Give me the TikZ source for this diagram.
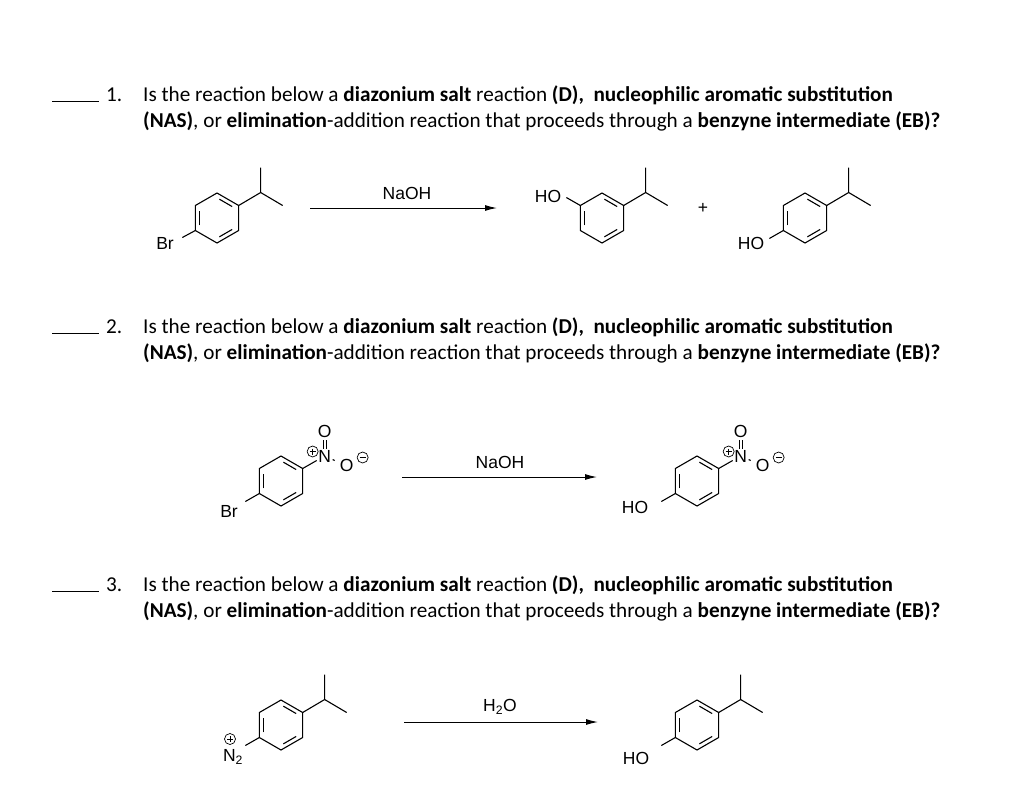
\documentclass[tikz,border=0pt]{standalone}
\usepackage{fontspec}
\setmainfont{Carlito}
\newfontfamily\chemf{Liberation Sans}
\usetikzlibrary{calc,arrows.meta}
\tikzset{
  q/.style={anchor=base west,font=\fontsize{21.2}{24}\selectfont,inner sep=0pt},
  lab/.style={font=\chemf\fontsize{17.5}{20}\selectfont,inner sep=0pt},
  bond/.style={line width=1.1pt},
  rxn/.style={line width=1pt,-{Latex[length=12pt,width=6pt]}},
  chg/.style={line width=0.7pt},
}
\newcommand{\ringat}[3]{% name, x, y
  \coordinate (#1) at (#2,#3);
  \draw[bond] (#1)+(-90:25) -- +(-30:25) -- +(30:25) -- +(90:25) -- +(150:25) -- +(210:25) -- cycle;
  \draw[bond] (#1)+(-83:19) -- +(-37:19);
  \draw[bond] (#1)+(37:19) -- +(83:19);
  \draw[bond] (#1)+(157:19) -- +(203:19);
  \coordinate (#1-ur) at ($(#1)+(-30:25)$);
  \coordinate (#1-ul) at ($(#1)+(210:25)$);
  \coordinate (#1-ll) at ($(#1)+(150:25)$);
}
\newcommand{\iprop}[1]{%
  \draw[bond] (#1-ur) -- ++(22,-13) coordinate (#1-ch) -- ++(0,-25);
  \draw[bond] (#1-ch) -- ++(22,13);
}
\newcommand{\nitro}[1]{%
  \draw[bond] (#1-ur) -- ++(14,-8);
  \node[lab] (#1-N) at ($(#1-ur)+(22,-12)$) {N};
  \node[lab] (#1-Ot) at ($(#1-N)+(0,-25)$) {O};
  \draw[bond] ($(#1-N)+(-1.6,-8)$) -- ++(0,-9);
  \draw[bond] ($(#1-N)+(1.6,-8)$) -- ++(0,-9);
  \node[lab] (#1-Om) at ($(#1-N)+(22,9)$) {O};
  \draw[bond] ($(#1-N)+(8,3)$) -- ++(2,1);
  \draw[chg] ($(#1-N)+(-12,-5)$) circle (5.5pt);
  \draw[chg] ($(#1-N)+(-15,-5)$) -- ++(6,0) ($(#1-N)+(-12,-8)$) -- ++(0,6);
  \draw[chg] ($(#1-Om)+(16,-8)$) circle (5.5pt);
  \draw[chg] ($(#1-Om)+(13,-8)$) -- ++(6,0);
}
\begin{document}
\begin{tikzpicture}[x=1pt,y=-1pt]
\useasboundingbox[fill=white] (0,0) rectangle (1024,801);
\foreach \n/\y in {1/101,2/333,3/591}{
  \node[q] at (52,\y) {\rule[-1pt]{47pt}{0.7pt}};
  \node[q] at (106,\y) {\n.};
  \node[q] at (143,\y) {Is the reaction below a \textbf{diazonium salt} reaction \textbf{(D), \ nucleophilic aromatic substitution}};
  \node[q] at (143,\y+26) {\textbf{(NAS)}, or \textbf{elimination}-addition reaction that proceeds through a \textbf{benzyne intermediate (EB)?}};
}
% reaction 1
\ringat{a}{217}{218}\iprop{a}
\draw[bond] (a-ll) -- ++(-13,7);
\node[lab] (br1) at (165,243) {Br};
\coordinate (a1s) at (310,208); \coordinate (a1e) at (497,208);
\draw[rxn] (a1s) -- (a1e);
\node[lab] (naoh1) at (407,193) {NaOH};
\ringat{b}{602}{218}\iprop{b}
\draw[bond] (b-ul) -- ++(-14,-8);
\node[lab] (ho1) at (548,196) {HO};
\node[lab] (plus) at (703,208) {+};
\ringat{c}{805}{218}\iprop{c}
\draw[bond] (c-ll) -- ++(-14,8);
\node[lab] (ho2) at (751,243) {HO};
% reaction 2
\ringat{d}{281}{481}\nitro{d}
\draw[bond] (d-ll) -- ++(-14,8);
\node[lab] (br2) at (229,511) {Br};
\coordinate (a2s) at (402,477); \coordinate (a2e) at (597,477);
\draw[rxn] (a2s) -- (a2e);
\node[lab] (naoh2) at (500,462) {NaOH};
\ringat{e}{697}{481}\nitro{e}
\draw[bond] (e-ll) -- ++(-14,8);
\node[lab] (ho3) at (635,507) {HO};
% reaction 3
\ringat{f}{281}{725}\iprop{f}
\draw[bond] (f-ll) -- ++(-14,8);
\node[lab] (n2) at (233,757) {N\textsubscript{2}};
\draw[chg] (230,739) circle (5.5pt);
\draw[chg] (227,739) -- ++(6,0) (230,736) -- ++(0,6);
\coordinate (a3s) at (404,722); \coordinate (a3e) at (598,722);
\draw[rxn] (a3s) -- (a3e);
\node[lab] (h2o) at (500,707) {H\textsubscript{2}O};
\ringat{g}{697}{725}\iprop{g}
\draw[bond] (g-ll) -- ++(-14,8);
\node[lab] (ho4) at (636,758) {HO};
\end{tikzpicture}
\end{document}
